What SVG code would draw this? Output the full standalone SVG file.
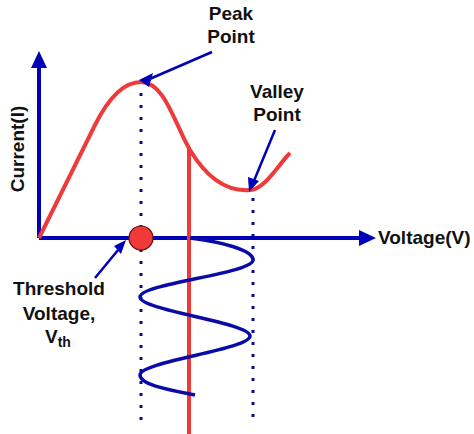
<svg xmlns="http://www.w3.org/2000/svg" width="474" height="434" viewBox="0 0 474 434">
<style>
.lbl{font-family:"Liberation Sans",Arial,sans-serif;font-weight:bold;font-size:19px;fill:#111;}
.axis{stroke:#0000b8;stroke-width:4;fill:none;}
.ptr{stroke:#0000b8;stroke-width:2.5;fill:none;}
.head{fill:#0000b8;}
.dot{stroke:#0a0a90;stroke-width:3;stroke-dasharray:3 9;fill:none;}
.red{stroke:#ee3a3a;stroke-width:4;fill:none;}
</style>
<rect width="474" height="434" fill="#fff"/>
<g id="connectors">
<line class="dot" x1="141" y1="93" x2="141" y2="422"/>
<line class="dot" x1="253" y1="198" x2="253" y2="426"/>
<path class="axis" d="M39,238 L39,66"/>
<path class="head" d="M31,68 L39,51 L47,68 Z"/>
<path class="axis" d="M39,238 L361,238"/>
<path class="head" d="M359,230 L376,238 L359,246 Z"/>
<path class="red" d="M39,238 L95,125 C110,95 125,82 141,82 C165,82 175,125 190,150 C205,175 225,192 250,190 C265,189 278,165 290,153"/>
<line class="red" x1="189" y1="147" x2="189" y2="434"/>
<path d="M190,238 C222,242 253,250 253,260 C253,273.5 140,283.5 140,297 C140,310.5 250,322.5 250,336 C250,349.5 140,361.5 140,375 C140,385 170,390 195,395" stroke="#0a0aa8" stroke-width="3.5" fill="none"/>
<path class="ptr" d="M212,52 L145,81"/>
<path class="ptr" d="M275,130 L251,188"/>
<path class="ptr" d="M95,278 L123,244"/>
<path class="head" d="M139,80 L153,73 L149,87 Z"/>
<path class="head" d="M249,192 L248,177 L259,181 Z"/>
<path class="head" d="M126,240 L121,254 L114,246 Z"/>
</g>
<g id="threshold-point"><circle cx="141" cy="238" r="12" fill="#f03a3a" stroke="#6a1010" stroke-width="1.2"/></g>
<g id="peak-label"><text class="lbl" x="231" y="20" text-anchor="middle">Peak</text><text class="lbl" x="231" y="43" text-anchor="middle">Point</text></g>
<g id="valley-label"><text class="lbl" x="277" y="98" text-anchor="middle">Valley</text><text class="lbl" x="277" y="121" text-anchor="middle">Point</text></g>
<g id="threshold-label"><text class="lbl" x="59" y="295" text-anchor="middle">Threshold</text><text class="lbl" x="59" y="320" text-anchor="middle">Voltage,</text><text class="lbl" x="45" y="343">V<tspan font-size="14" dy="4">th</tspan></text></g>
<g id="y-label"><text class="lbl" x="0" y="0" text-anchor="middle" font-size="20" transform="translate(24,149) rotate(-90)">Current(I)</text></g>
<g id="x-label"><text class="lbl" x="378" y="244">Voltage(V)</text></g>
</svg>
